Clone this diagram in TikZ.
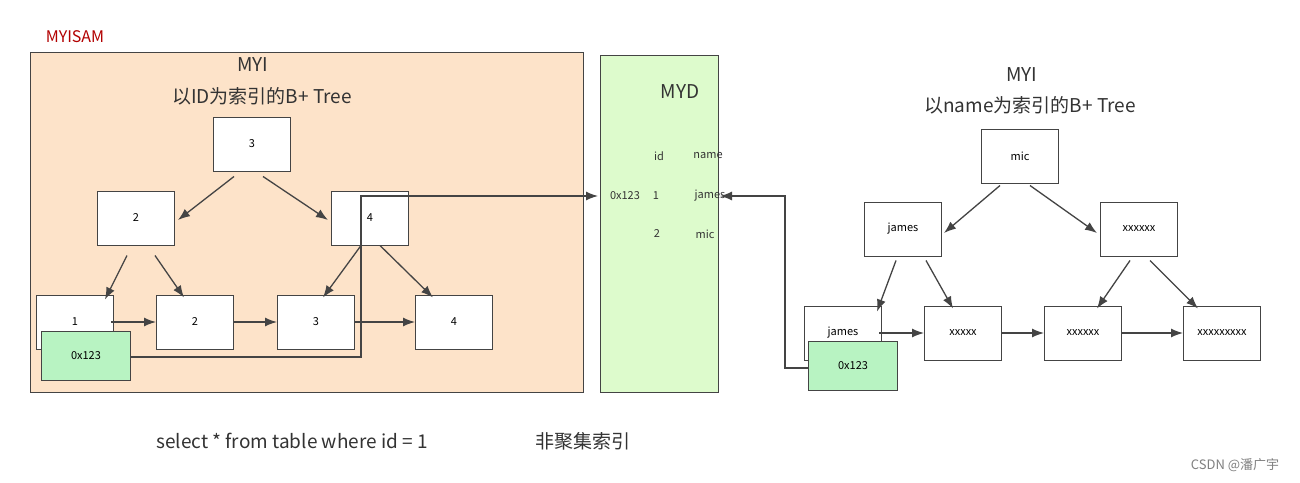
\documentclass[tikz,border=0pt]{standalone}
\usepackage{fontspec}
\setmainfont{Noto Sans CJK SC}
\usetikzlibrary{arrows.meta}
\definecolor{peach}{HTML}{FDE3C9}
\definecolor{mydgreen}{HTML}{DDFBCC}
\definecolor{ptrgreen}{HTML}{B8F3C2}
\definecolor{linegray}{HTML}{444444}
\tikzset{
    keybox/.style={draw=linegray, line width=1pt, fill=white, minimum width=77pt, minimum height=54pt, inner sep=0pt, font=\fontsize{11}{12}\selectfont},
    ptrbox/.style={draw=linegray, line width=1pt, fill=ptrgreen, minimum width=89pt, minimum height=49pt, inner sep=0pt, font=\fontsize{11}{12}\selectfont},
    link/.style={draw=linegray, line width=1.3pt, -{Latex[length=12pt,width=9pt]}},
    title/.style={font=\fontsize{19}{21}\selectfont, text=black!80},
    small/.style={font=\fontsize{11}{12}\selectfont, text=black!80},
}
\begin{document}
\begin{tikzpicture}[x=1pt, y=-1pt]

    \useasboundingbox[fill=white] (0,0) rectangle (1300,482);

    \node[font=\fontsize{16}{18}\selectfont, text=red!70!black] (myisam) at (75,37) {MYISAM};
    \draw[linegray, line width=1pt, fill=peach] (30,52) rectangle (583,392);
    \draw[linegray, line width=1pt, fill=mydgreen] (600,55) rectangle (718,392);

    % left tree
    \node[title] (myiA) at (253,65) {MYI};
    \node[title] (titleA) at (262,96) {以ID为索引的B+ Tree};
    \node[keybox] (t3) at (252,144) {3};
    \node[keybox] (a2) at (136,218) {2};
    \node[keybox] (b4) at (370,218) {4};
    \node[keybox] (l1) at (75,322) {1};
    \node[keybox] (l2) at (195,322) {2};
    \node[keybox] (l3) at (316,322) {3};
    \node[keybox] (l4) at (454,322) {4};
    \node[ptrbox] (pA) at (86,356) {0x123};

    \draw[link] ([xshift=-18pt,yshift=-5pt]t3.south) -- ([xshift=3pt,yshift=-2pt]a2.east);
    \draw[link] ([xshift=11pt,yshift=-5pt]t3.south) -- ([xshift=-3pt,yshift=-2pt]b4.west);
    \draw[link] ([xshift=-9pt,yshift=-10pt]a2.south) -- ([xshift=30pt,yshift=-5pt]l1.north);
    \draw[link] ([xshift=19pt,yshift=-10pt]a2.south) -- ([xshift=-11pt,yshift=-3pt]l2.north);
    \draw[link] ([xshift=-9pt]b4.south) -- ([xshift=7pt,yshift=-3pt]l3.north);
    \draw[link] ([xshift=10pt]b4.south) -- ([xshift=-21pt,yshift=-3pt]l4.north);
    \draw[link] ([xshift=-3pt]l1.east) -- (l2.west);
    \draw[link] (l2.east) -- (l3.west);
    \draw[link] (l3.east) -- (l4.west);

    \coordinate (turnA) at (361,357);
    \coordinate (upA) at (361,196);
    \coordinate (inD) at (598,196);
    \draw[link] (pA.east |- turnA) -- (turnA) -- (upA) -- (inD);

    % data file
    \node[title] (myd) at (680,92) {MYD};
    \node[small] (hid) at (659,156) {id};
    \node[small] (hname) at (708,156) {name};
    \node[small] (addr) at (625,196) {0x123};
    \node[small] (id1) at (656,196) {1};
    \node[small] (nm1) at (710,196) {james};
    \node[small] (id2) at (657,234) {2};
    \node[small] (nm2) at (705,234) {mic};

    % right tree
    \node[title] (myiB) at (1022,75) {MYI};
    \node[title] (titleB) at (1030,105) {以name为索引的B+ Tree};
    \node[keybox] (rmic) at (1020,156) {mic};
    \node[keybox] (rjames) at (903,229) {james};
    \node[keybox] (rxx) at (1139,229) {xxxxxx};
    \node[keybox] (ljames) at (843,333) {james};
    \node[keybox] (lx5) at (963,333) {xxxxx};
    \node[keybox] (lx6) at (1083,333) {xxxxxx};
    \node[keybox] (lx9) at (1222,333) {xxxxxxxxx};
    \node[ptrbox] (pB) at (853,366) {0x123};

    \draw[link] ([xshift=-20pt,yshift=-2pt]rmic.south) -- ([xshift=2pt,yshift=-4pt]rjames.east);
    \draw[link] ([xshift=10pt,yshift=-2pt]rmic.south) -- ([xshift=-3pt,yshift=-4pt]rxx.west);
    \draw[link] ([xshift=-7pt,yshift=-4pt]rjames.south) -- ([xshift=34pt,yshift=-6pt]ljames.north);
    \draw[link] ([xshift=23pt,yshift=-4pt]rjames.south) -- ([xshift=-10pt,yshift=-3pt]lx5.north);
    \draw[link] ([xshift=-9pt,yshift=-4pt]rxx.south) -- ([xshift=14pt,yshift=-3pt]lx6.north);
    \draw[link] ([xshift=11pt,yshift=-4pt]rxx.south) -- ([xshift=-24pt,yshift=-3pt]lx9.north);
    \draw[link] ([xshift=-3pt]ljames.east) -- (lx5.west);
    \draw[link] (lx5.east) -- (lx6.west);
    \draw[link] (lx6.east) -- (lx9.west);

    \coordinate (turnB) at (785,368);
    \coordinate (upB) at (785,196);
    \coordinate (outD) at (720,196);
    \draw[link] (pB.west |- turnB) -- (turnB) -- (upB) -- (outD);

    % captions
    \node[title] (query) at (292,441) {select * from table where id = 1};
    \node[title] (kind) at (583,441) {非聚集索引};
    \node[font=\fontsize{13}{15}\selectfont, text=gray] (mark) at (1235,465) {CSDN @潘广宇};

\end{tikzpicture}
\end{document}
